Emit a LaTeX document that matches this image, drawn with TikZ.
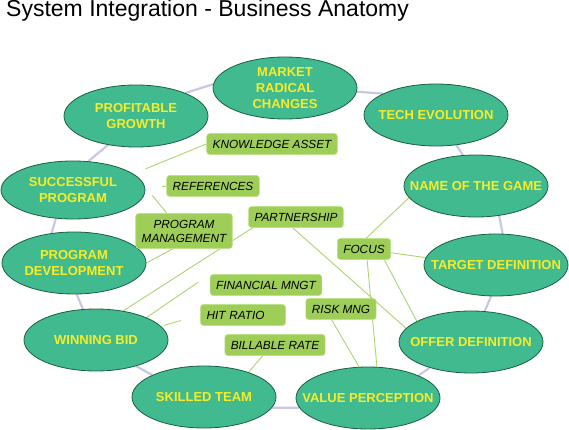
\documentclass[tikz,border=0pt]{standalone}
\usepackage{fontspec}
\setmainfont{Liberation Sans}
\usetikzlibrary{positioning,shapes.geometric,backgrounds}

\definecolor{ovalfill}{RGB}{64,186,142}
\definecolor{ovalline}{RGB}{25,95,65}
\definecolor{ovaltxt}{RGB}{248,236,40}
\definecolor{tagfill}{RGB}{158,206,88}
\definecolor{tagline}{RGB}{190,225,140}
\definecolor{ringcol}{RGB}{200,200,230}
\definecolor{linkcol}{RGB}{172,212,112}

\begin{document}
\begin{tikzpicture}[x=1pt,y=-1pt,%
         oval/.style={ellipse,draw=ovalline,fill=ovalfill,line width=0.8pt,
                      minimum width=144pt,minimum height=62pt,inner sep=0pt},
         ovaltext/.style={text=ovaltxt,font=\fontsize{13}{16}\selectfont\bfseries,align=center},
         tag/.style={rectangle,rounded corners=3pt,draw=tagline,fill=tagfill,line width=0.6pt,
                     minimum height=21pt,inner xsep=6pt,font=\fontsize{11.8}{14}\selectfont\itshape},
         ring/.style={draw=ringcol,line width=2.2pt},
         link/.style={draw=linkcol,line width=0.9pt}]
        \useasboundingbox (0,0) rectangle (569,430);
        \node [anchor=base west,inner sep=0pt,font=\fontsize{23}{27}\selectfont] (title) at (6,17) {System Integration - Business Anatomy};
        % ring of ovals
        \node [oval,label={[ovaltext]center:{MARKET\\RADICAL\\CHANGES}}] (market) at (285,88) {};
        \node [oval,label={[ovaltext]center:{PROFITABLE\\GROWTH}}] (profit) at (136,116) {};
        \node [oval,label={[ovaltext]center:TECH EVOLUTION}] (tech) at (436,115) {};
        \node [oval,label={[ovaltext]center:NAME OF THE GAME}] (name) at (476,186) {};
        \node [oval,minimum height=58pt,label={[ovaltext]center:{SUCCESSFUL\\PROGRAM}}] (succ) at (73,190) {};
        \node [oval,label={[ovaltext]center:{PROGRAM\\DEVELOPMENT}}] (progdev) at (74,263) {};
        \node [oval,label={[ovaltext]center:TARGET DEFINITION}] (target) at (496,265) {};
        \node [oval,label={[ovaltext]center:WINNING BID}] (win) at (96,340) {};
        \node [oval,label={[ovaltext]center:OFFER DEFINITION}] (offer) at (471,342) {};
        \node [oval,label={[ovaltext]center:SKILLED TEAM}] (skilled) at (204,397) {};
        \node [oval,label={[ovaltext]center:VALUE PERCEPTION}] (value) at (368,398) {};
        % tags
        \node [tag] (know) at (272,144) {KNOWLEDGE ASSET};
        \node [tag] (refs) at (213,186) {REFERENCES};
        \node [tag,minimum height=35pt,align=center] (progman) at (184,231) {PROGRAM\\MANAGEMENT};
        \node [tag] (partner) at (296,217) {PARTNERSHIP};
        \node [tag] (focus) at (364,249) {FOCUS};
        \node [tag] (finance) at (266,285) {FINANCIAL MNGT};
        \node [tag,text width=73pt,align=left] (hit) at (243,315) {HIT RATIO};
        \node [tag] (risk) at (341,309) {RISK MNG};
        \node [tag] (bill) at (275,345) {BILLABLE RATE};
        \begin{scope}[on background layer]
        \draw [ring] (profit.25) -- (market.177);
        \draw [ring] (market.-3) -- (tech.158);
        \draw [ring] (tech.-56) -- (name.113);
        \draw [ring] (name.-52) -- (target.78);
        \draw [ring] (target.-99) -- (offer.66);
        \draw [ring] (offer.212) -- (value.24);
        \draw [ring] (value.188) -- (skilled.-9);
        \draw [ring] (skilled.157) -- (win.-33);
        \draw [ring] (win.113) -- (progdev.-85);
        \draw [ring] (progdev.127) -- (succ.-121);
        \draw [ring] (succ.62) -- (profit.226);
        \draw [link,shorten >=13pt] (know.west) -- (succ.15);
        \draw [link,shorten >=17pt] (refs.west) -- (succ.east);
        \draw [link,shorten >=12pt] (progman.134) -- (succ.3);
        \draw [link] (progman.-122) -- (progdev.east);
        \draw [link] (partner.-166) -- (win.47);
        \draw [link,shorten <=14pt] (finance.north west) -- (win.24);
        \draw [link,shorten <=20pt,shorten >=3pt] (hit.west) -- (win.12);
        \draw [link] (bill.-139) -- (skilled.29);
        \draw [link] (partner.-107) -- (offer.168);
        \draw [link] (focus.79) -- (name.190);
        \draw [link] (focus.-8) -- (target.174);
        \draw [link] (focus.-28) -- (offer.159);
        \draw [link] (focus.-74) -- (value.74);
        \draw [link] (risk.-131) -- (value.106);
        \end{scope}
      \end{tikzpicture}
\end{document}
